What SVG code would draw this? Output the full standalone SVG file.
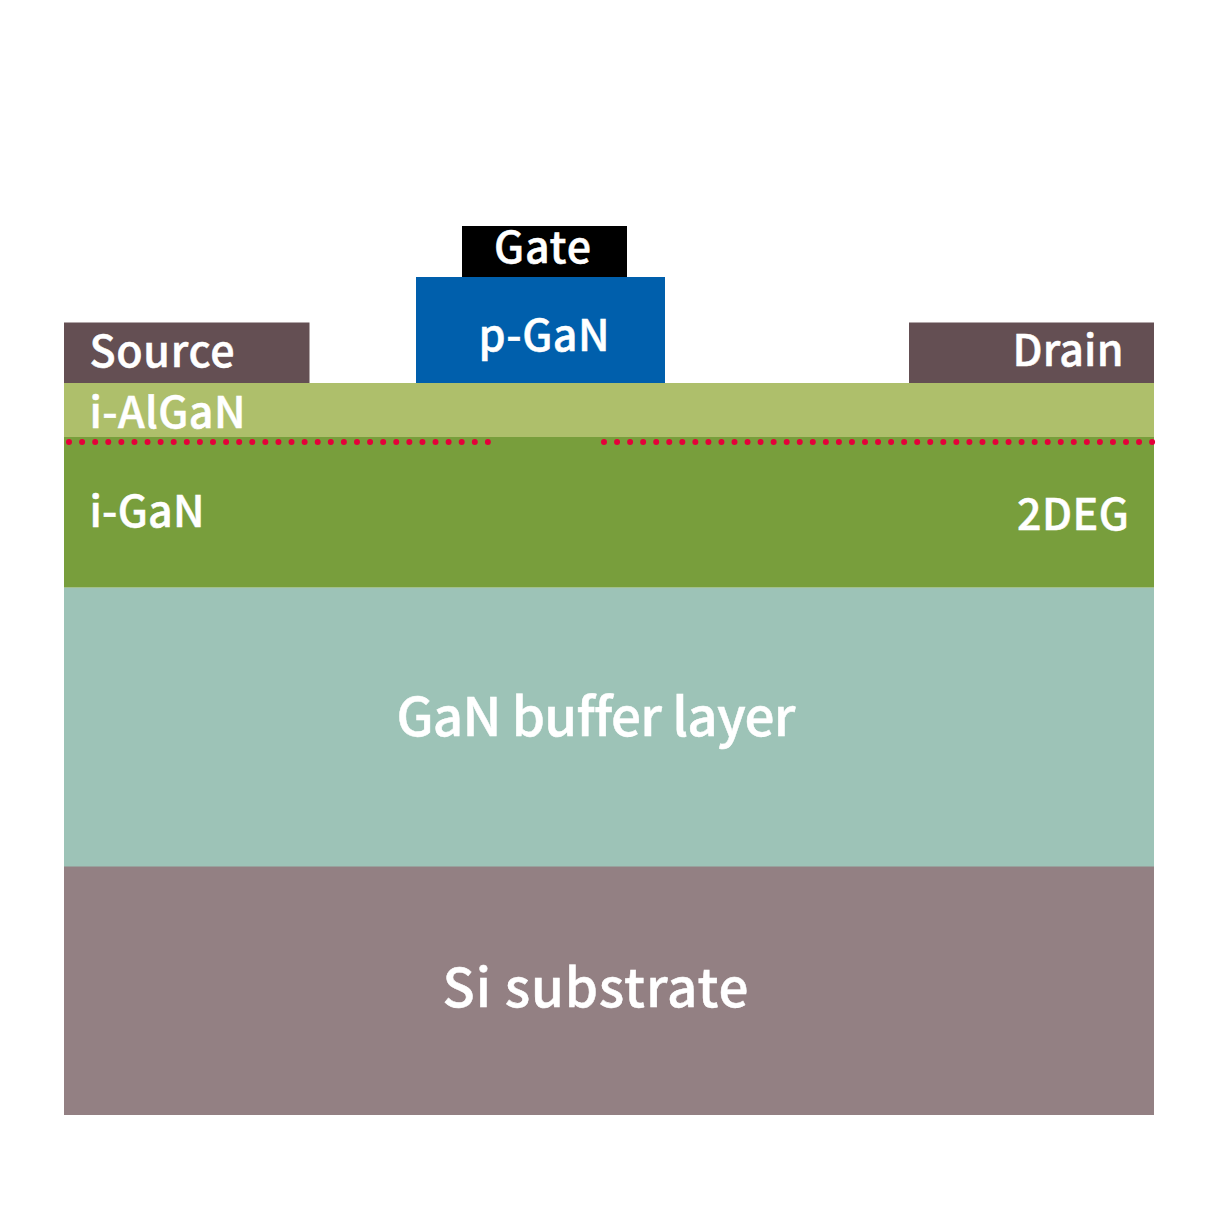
<svg xmlns="http://www.w3.org/2000/svg" width="1220" height="1215" viewBox="0 0 1220 1215">
<style>
text{font-family:"Noto Sans CJK JP","Noto Sans",sans-serif;font-weight:500;fill:#fff;stroke:#fff;stroke-width:.5px;font-variant-ligatures:none}
.m{font-size:43px}.l{font-size:53px}
</style>
<rect width="1220" height="1215" fill="#fff"/>
<g id="si"><rect x="64" y="866" width="1090" height="249" fill="#938083"/><text class="l" x="442.5" y="1007" textLength="306">Si substrate</text></g>
<g id="buffer"><rect x="64" y="587.500" width="1090" height="279" fill="#9dc3b7"/><text class="l" x="396.500" y="735.500" textLength="399">GaN buffer layer</text></g>
<g id="igan"><rect x="64" y="437" width="1090" height="150.500" fill="#789e3c"/><text class="m" x="89.500" y="527" textLength="115">i-GaN</text><text class="m" x="1017" y="530" textLength="112">2DEG</text></g>
<g id="algan"><rect x="64" y="383" width="1090" height="54" fill="#aebf6b"/><text class="m" x="89.500" y="428" textLength="156">i-AlGaN</text></g>
<g id="source"><rect x="64" y="322.500" width="245.500" height="60.500" fill="#644f53"/><text class="m" x="89.500" y="367" textLength="145">Source</text></g>
<g id="drain"><rect x="909" y="322.500" width="245" height="60.500" fill="#644f53"/><text class="m" x="1012.500" y="366" textLength="111">Drain</text></g>
<g id="pgan"><rect x="416" y="277" width="249" height="106" fill="#005fac"/><text class="m" x="478.500" y="351" textLength="131">p-GaN</text></g>
<g id="gate"><rect x="462" y="226" width="165" height="51" fill="#000"/><text class="m" x="494" y="263" textLength="97">Gate</text></g>
<g id="channel" fill="none" stroke="#e4003a" stroke-width="6" stroke-linecap="round"><path stroke-dasharray="0 13.09" d="M69 442H489"/><path stroke-dasharray="0 13.05" d="M604 442H1153"/></g>
</svg>
